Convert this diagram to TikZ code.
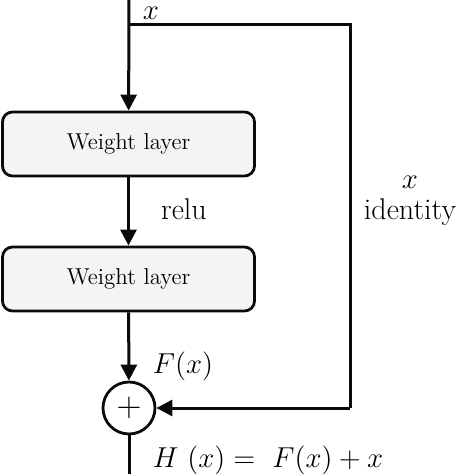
\documentclass[tikz,border=0pt]{standalone}
\usepackage{amsmath}
\usepackage{tikz}
\usetikzlibrary{arrows.meta,shapes,positioning}
\usepackage{xcolor}
\definecolor{rbgray}{RGB}{244,244,244}
\definecolor{rbline}{RGB}{10,10,10}
\tikzstyle{layer} = [rectangle, rounded corners=5pt, minimum width=126pt, minimum height=32pt, text centered, draw=rbline, fill=rbgray, line width=1.4pt, font=\fontsize{11.5}{13}\selectfont]
\tikzstyle{adder} = [circle, minimum size=26pt, inner sep=0pt, draw=rbline, line width=1.4pt, font=\fontsize{17}{19}\selectfont]
\tikzstyle{arrow} = [line width=1.5pt, -{Triangle[width=8pt,length=8pt]}, color=rbline]
\tikzstyle{wire} = [line width=1.5pt, color=rbline]
\tikzstyle{tag} = [font=\fontsize{15}{17}\selectfont, inner sep=0pt]

\begin{document}
\begin{tikzpicture}[x=0.5pt, y=-0.5pt]
\useasboundingbox (0,0) rectangle (474,474);

% Input and shortcut corners
\coordinate (in) at (129,-5);
\coordinate (split) at (129,25);
\coordinate (turn) at (350,25);
\coordinate (back) at (350,408);
\coordinate (out) at (129,480);

% Residual block
\node (wone) [layer] at (128.5,144) {Weight layer};
\node (wtwo) [layer] at (128.5,279) {Weight layer};
\node (sum) [adder] at (129,408) {$+$};

% Labels
\node (xin) [tag] at (151,13) {$x$};
\node (relu) [tag] at (184,209) {relu};
\node (fx) [tag] at (183,366) {$F(x)$};
\node (xid) [tag] at (410,182) {$x$};
\node (ident) [tag] at (410,212) {identity};
\node (hx) [tag] at (268,460) {$H\ (x) =\ F(x) + x$};

% Connections
\draw[arrow] (in) -- (wone);
\draw[arrow] (wone) -- (wtwo);
\draw[arrow] (wtwo) -- (sum);
\draw[wire] (sum) -- (out);
\draw[wire, line join=miter] (split) -- (turn) -- (back);
\draw[arrow] (back) -- (sum);
\end{tikzpicture}
\end{document}
